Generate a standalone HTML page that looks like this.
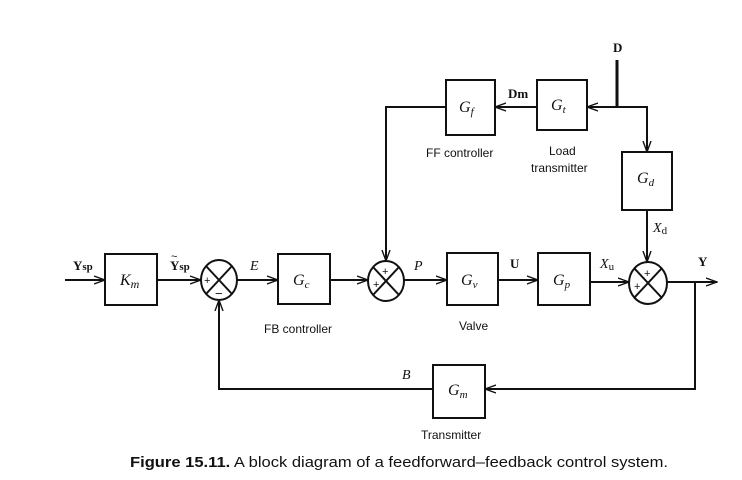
<!DOCTYPE html>
<html><head><meta charset="utf-8"><style>
html,body{margin:0;padding:0;background:#fff;}
svg{display:block;}
text{font-family:"Liberation Sans",sans-serif;fill:#111;}
.s{font-family:"Liberation Serif",serif;font-style:italic;}
.b{font-family:"Liberation Serif",serif;font-weight:bold;}
</style></head><body>
<svg width="742" height="480" viewBox="0 0 742 480" xmlns="http://www.w3.org/2000/svg">
<defs>
<marker id="a" markerWidth="12" markerHeight="10" refX="11" refY="5" orient="auto" markerUnits="userSpaceOnUse">
<path d="M0,1 L11,5 L0,9" fill="none" stroke="#111" stroke-width="1.4"/>
</marker>
</defs>
<g stroke="#111" stroke-width="2" fill="none">
<rect x="105" y="254" width="52" height="51"/>
<rect x="278" y="254" width="52" height="50"/>
<rect x="447" y="253" width="51" height="52"/>
<rect x="538" y="253" width="52" height="52"/>
<rect x="446" y="80" width="49" height="55"/>
<rect x="537" y="80" width="50" height="50"/>
<rect x="622" y="152" width="50" height="58"/>
<rect x="433" y="365" width="52" height="53"/>
<ellipse cx="219" cy="280" rx="18" ry="20"/>
<ellipse cx="386" cy="281" rx="18" ry="20"/>
<ellipse cx="648" cy="283" rx="19" ry="21"/>
<path d="M206,266 L232,294 M232,266 L206,294"/>
<path d="M373,267 L399,295 M399,267 L373,295"/>
<path d="M634,268 L662,298 M662,268 L634,298"/>
<line x1="65" y1="280" x2="105" y2="280" marker-end="url(#a)"/>
<line x1="157" y1="280" x2="201" y2="280" marker-end="url(#a)"/>
<line x1="237" y1="280" x2="278" y2="280" marker-end="url(#a)"/>
<line x1="330" y1="280" x2="368" y2="280" marker-end="url(#a)"/>
<line x1="404" y1="280" x2="447" y2="280" marker-end="url(#a)"/>
<line x1="498" y1="280" x2="538" y2="280" marker-end="url(#a)"/>
<line x1="590" y1="282" x2="629" y2="282" marker-end="url(#a)"/>
<line x1="667" y1="282" x2="717" y2="282" marker-end="url(#a)"/>
<polyline points="695,282 695,389 485,389" marker-end="url(#a)"/>
<polyline points="433,389 219,389 219,300" marker-end="url(#a)"/>
<line x1="617" y1="60" x2="617" y2="107" stroke-width="3"/>
<line x1="645" y1="107" x2="587" y2="107" marker-end="url(#a)"/>
<line x1="537" y1="107" x2="495" y2="107" marker-end="url(#a)"/>
<polyline points="446,107 386,107 386,261" marker-end="url(#a)"/>
<polyline points="617,107 647,107 647,152" marker-end="url(#a)"/>
<line x1="647" y1="210" x2="647" y2="262" marker-end="url(#a)"/>
</g>
<g>
<text x="204" y="284" font-size="11">+</text>
<text x="215" y="298" font-size="13">−</text>
<text x="382" y="275" font-size="11">+</text>
<text x="373" y="288" font-size="11">+</text>
<text x="644" y="277" font-size="11">+</text>
<text x="634" y="290" font-size="11">+</text>
</g>
<g>
<text class="s" x="120" y="285" font-size="16">K<tspan font-size="12" dy="3">m</tspan></text>
<text class="s" x="293" y="285" font-size="16">G<tspan font-size="11" dy="3">c</tspan></text>
<text class="s" x="461" y="285" font-size="16">G<tspan font-size="11" dy="3">v</tspan></text>
<text class="s" x="553" y="285" font-size="16">G<tspan font-size="11" dy="3">p</tspan></text>
<text class="s" x="459" y="112" font-size="16">G<tspan font-size="11" dy="3">f</tspan></text>
<text class="s" x="551" y="110" font-size="16">G<tspan font-size="11" dy="3">t</tspan></text>
<text class="s" x="637" y="183" font-size="16">G<tspan font-size="11" dy="3">d</tspan></text>
<text class="s" x="448" y="395" font-size="16">G<tspan font-size="11" dy="3">m</tspan></text>
<text class="b" x="73" y="270" font-size="13">Y<tspan font-size="11">sp</tspan></text>
<text class="b" x="170" y="270" font-size="13">Y<tspan font-size="11">sp</tspan></text>
<text x="171" y="260" font-size="11">~</text>
<text class="s" x="250" y="270" font-size="14">E</text>
<text class="s" x="414" y="270" font-size="14">P</text>
<text class="b" x="510" y="268" font-size="13">U</text>
<text class="s" x="600" y="268" font-size="14">X<tspan font-size="11" dy="2" font-style="normal">u</tspan></text>
<text class="s" x="653" y="232" font-size="14">X<tspan font-size="11" dy="2" font-style="normal">d</tspan></text>
<text class="b" x="698" y="266" font-size="13">Y</text>
<text class="b" x="613" y="52" font-size="13">D</text>
<text class="b" x="508" y="98" font-size="13">Dm</text>
<text class="s" x="402" y="379" font-size="14">B</text>
<text x="426" y="157" font-size="12">FF controller</text>
<text x="549" y="155" font-size="12">Load</text>
<text x="531" y="172" font-size="12">transmitter</text>
<text x="459" y="330" font-size="12">Valve</text>
<text x="264" y="333" font-size="12">FB controller</text>
<text x="421" y="439" font-size="12">Transmitter</text>
<text x="130" y="467" font-size="15" textLength="538" lengthAdjust="spacingAndGlyphs"><tspan font-weight="bold">Figure 15.11.</tspan>   A block diagram of a feedforward–feedback control system.</text>
</g>
</svg>
</body></html>
